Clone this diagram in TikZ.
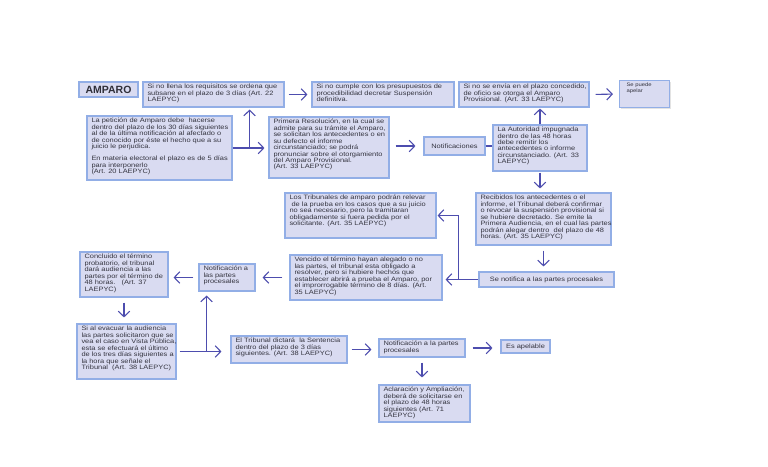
\documentclass[tikz,border=0pt]{standalone}
\usepackage{fontspec}
\setmainfont{Liberation Sans}
\newfontfamily\bxf[FakeStretch=1.18]{Liberation Sans}
\usetikzlibrary{arrows.meta,shadows,calc}
\definecolor{bfill}{HTML}{D9DBF1}
\definecolor{bdraw}{HTML}{92AEE6}
\definecolor{arr}{HTML}{4D4DAE}
\definecolor{txt}{HTML}{34343F}
\tikzset{
  bx/.style={draw=bdraw, fill=bfill, line width=1.1pt, text=txt, inner xsep=4.5pt, inner ysep=2pt,
    font=\bxf\fontsize{6.3}{6.3}\selectfont,
    drop shadow={shadow xshift=1.2pt, shadow yshift=-1.2pt, opacity=0.22, fill=gray}},
  ar/.style={draw=arr, line width=1.1pt, -{Straight Barb[length=5.5pt,width=11.5pt]}},
  ln/.style={draw=arr, line width=1.1pt}
}
\newcommand\mkbox[7][]{\node[bx,#1] (#2) at ({(#3+#5)/2},{(#4+#6)/2})
  {\parbox[c][\dimexpr #6pt-#4pt-4pt\relax][t]{\dimexpr #5pt-#3pt-9pt\relax}{\begin{tabular}[t]{@{}l@{}}#7\end{tabular}}};}
\begin{document}
\begin{tikzpicture}[x=1pt,y=-1pt]
\useasboundingbox[fill=white] (0,0) rectangle (768,466);

\node[bx, inner sep=0pt, minimum width=59pt, minimum height=15pt,
  font=\bfseries\fontsize{10.5}{11}\selectfont, text=txt!90!black] (amp) at (108.5,89.5) {AMPARO};

\mkbox{b1}{143}{82}{284}{107}{Si no llena los requisitos se ordena que\\subsane en el plazo de 3 días (Art. 22\\LAEPYC)}
\mkbox{b2}{312}{82}{454}{107}{Si no cumple con los presupuestos de\\procedibilidad decretar Suspensión\\definitiva.}
\mkbox{b3}{459}{82}{589}{107}{Si no se envía en el plazo concedido,\\de oficio se otorga el Amparo\\Provisional. (Art. 33 LAEPYC)}
\mkbox[font=\bxf\fontsize{5}{5.4}\selectfont, inner xsep=7pt, inner ysep=2.5pt]{b4}{622}{81}{667}{107}{Se puede\\apelar}

\mkbox{pet}{87}{116}{232}{180}{La petición de Amparo debe\ \ hacerse\\dentro del plazo de los 30 días siguientes\\al de la última notificación al afectado o\\de conocido por éste el hecho que a su\\juicio le perjudica.\\[5.5pt]En materia electoral el plazo es de 5 días\\para interponerlo\\(Art. 20 LAEPYC)}
\mkbox{pr}{269}{117}{389}{178}{Primera Resolución, en la cual se\\admite para su trámite el Amparo,\\se solicitan los antecedentes o en\\su defecto el informe\\circunstanciado; se podrá\\pronunciar sobre el otorgamiento\\del Amparo Provisional.\\(Art. 33 LAEPYC)}
\node[bx, inner sep=0pt, minimum width=61pt, minimum height=18pt] (nf) at (454.5,146) {Notificaciones};
\mkbox{la}{493}{125}{587}{171}{La Autoridad impugnada\\dentro de las 48 horas\\debe remitir los\\antecedentes o informe\\circunstanciado. (Art. 33\\LAEPYC)}
\mkbox{rc}{476}{193}{611}{245}{Recibidos los antecedentes o el\\informe, el Tribunal deberá confirmar\\o revocar la suspensión provisional si\\se hubiere decretado. Se emite la\\Primera Audiencia, en el cual las partes\\podrán alegar dentro\ \ del plazo de 48\\horas. (Art. 35 LAEPYC)}
\node[bx, inner sep=0pt, minimum width=135pt, minimum height=15pt] (sn) at (546.5,279.5) {Se notifica a las partes procesales};
\mkbox{lt}{285}{193}{436}{238}{Los Tribunales de amparo podrán relevar\\\ de la prueba en los casos que a su juicio\\no sea necesario, pero la tramitaran\\obligadamente si fuera pedida por el\\solicitante. (Art. 35 LAEPYC)}
\mkbox{vc}{290}{255}{442}{300}{Vencido el término hayan alegado o no\\las partes, el tribunal esta obligado a\\resolver, pero si hubiere hechos que\\establecer abrirá a prueba el Amparo, por\\el improrrogable término de 8 días. (Art.\\35 LAEPYC)}
\mkbox{np}{199}{264}{255}{291}{Notificación a\\las partes\\procesales}
\mkbox{cc}{80}{252}{168}{297}{Concluido el término\\probatorio, el tribunal\\dará audiencia a las\\partes por el término de\\48 horas.\ \ \ (Art. 37\\LAEPYC)}
\mkbox{ev}{77}{324}{176}{379}{Si al evacuar la audiencia\\las partes solicitaron que se\\vea el caso en Vista Pública,\\esta se efectuará el último\\de los tres días siguientes a\\la hora que señale el\\Tribunal\ \ (Art. 38 LAEPYC)}
\mkbox{tr}{231}{336}{347}{363}{El Tribunal dictará\ \ la Sentencia\\dentro del plazo de 3 días\\siguientes. (Art. 38 LAEPYC)}
\mkbox{np2}{379}{339}{465}{357}{Notificación a la partes\\procesales}
\node[bx, inner sep=0pt, minimum width=49pt, minimum height=13pt] (ea) at (525.5,346.5) {Es apelable};
\mkbox{ac}{379}{385}{470}{422}{Aclaración y Ampliación,\\deberá de solicitarse en\\el plazo de 48 horas\\siguientes (Art. 71\\LAEPYC)}

% connectors
\draw[ar, shorten <=4pt, shorten >=4pt] (b1.east) -- (b2.west);
\draw[ar, shorten <=6pt, shorten >=6pt] (b3.east) -- (b4.west);
\coordinate (j2) at ($(pet.east)+(17,0)$);
\draw[ln] (pet.east) -- (j2);
\draw[ar, shorten >=2pt] (j2) -- (j2 |- b1.south);
\draw[ar, shorten >=4pt] (j2) -- (j2 -| pr.west);
\draw[ar, shorten <=6pt, shorten >=8pt] (pr.east |- nf.west) -- (nf.west);
\draw[ln] (nf.east) -- (nf.east -| la.west);
\draw[ar, shorten >=1pt] (la.north) -- (la.north |- b3.south);
\draw[ar, shorten <=1pt, shorten >=4pt] (la.south) -- (la.south |- rc.north);
\draw[ar, shorten <=5pt, shorten >=5pt] (rc.south) -- (rc.south |- sn.north);
\coordinate (j1) at ($(sn.west)+(-20,0)$);
\draw[ar, shorten >=3pt] (sn.west) -- (sn.west -| vc.east);
\draw[ar, shorten >=1pt] (j1) |- (lt.east);
\draw[ar, shorten <=7pt, shorten >=7pt] (vc.west) -- (vc.west -| np.east);
\draw[ar, shorten <=5pt, shorten >=5pt] (np.west) -- (np.west -| cc.east);
\draw[ar, shorten <=5pt, shorten >=6pt] (cc.south) -- (cc.south |- ev.north);
\coordinate (j3) at ($(ev.east)+(30,0)$);
\draw[ln, shorten <=3pt] (ev.east) -- (j3);
\draw[ar, shorten >=9pt] (j3) -- (j3 -| tr.west);
\draw[ar, shorten >=4pt] (j3) -- (j3 |- np.south);
\draw[ar, shorten <=4pt, shorten >=7pt] (tr.east) -- (tr.east -| np2.west);
\draw[ar, shorten <=7pt, shorten >=8pt] (np2.east) -- (np2.east -| ea.west);
\draw[ar, shorten <=5pt, shorten >=7pt] (np2.south) -- (np2.south |- ac.north);
\end{tikzpicture}
\end{document}
